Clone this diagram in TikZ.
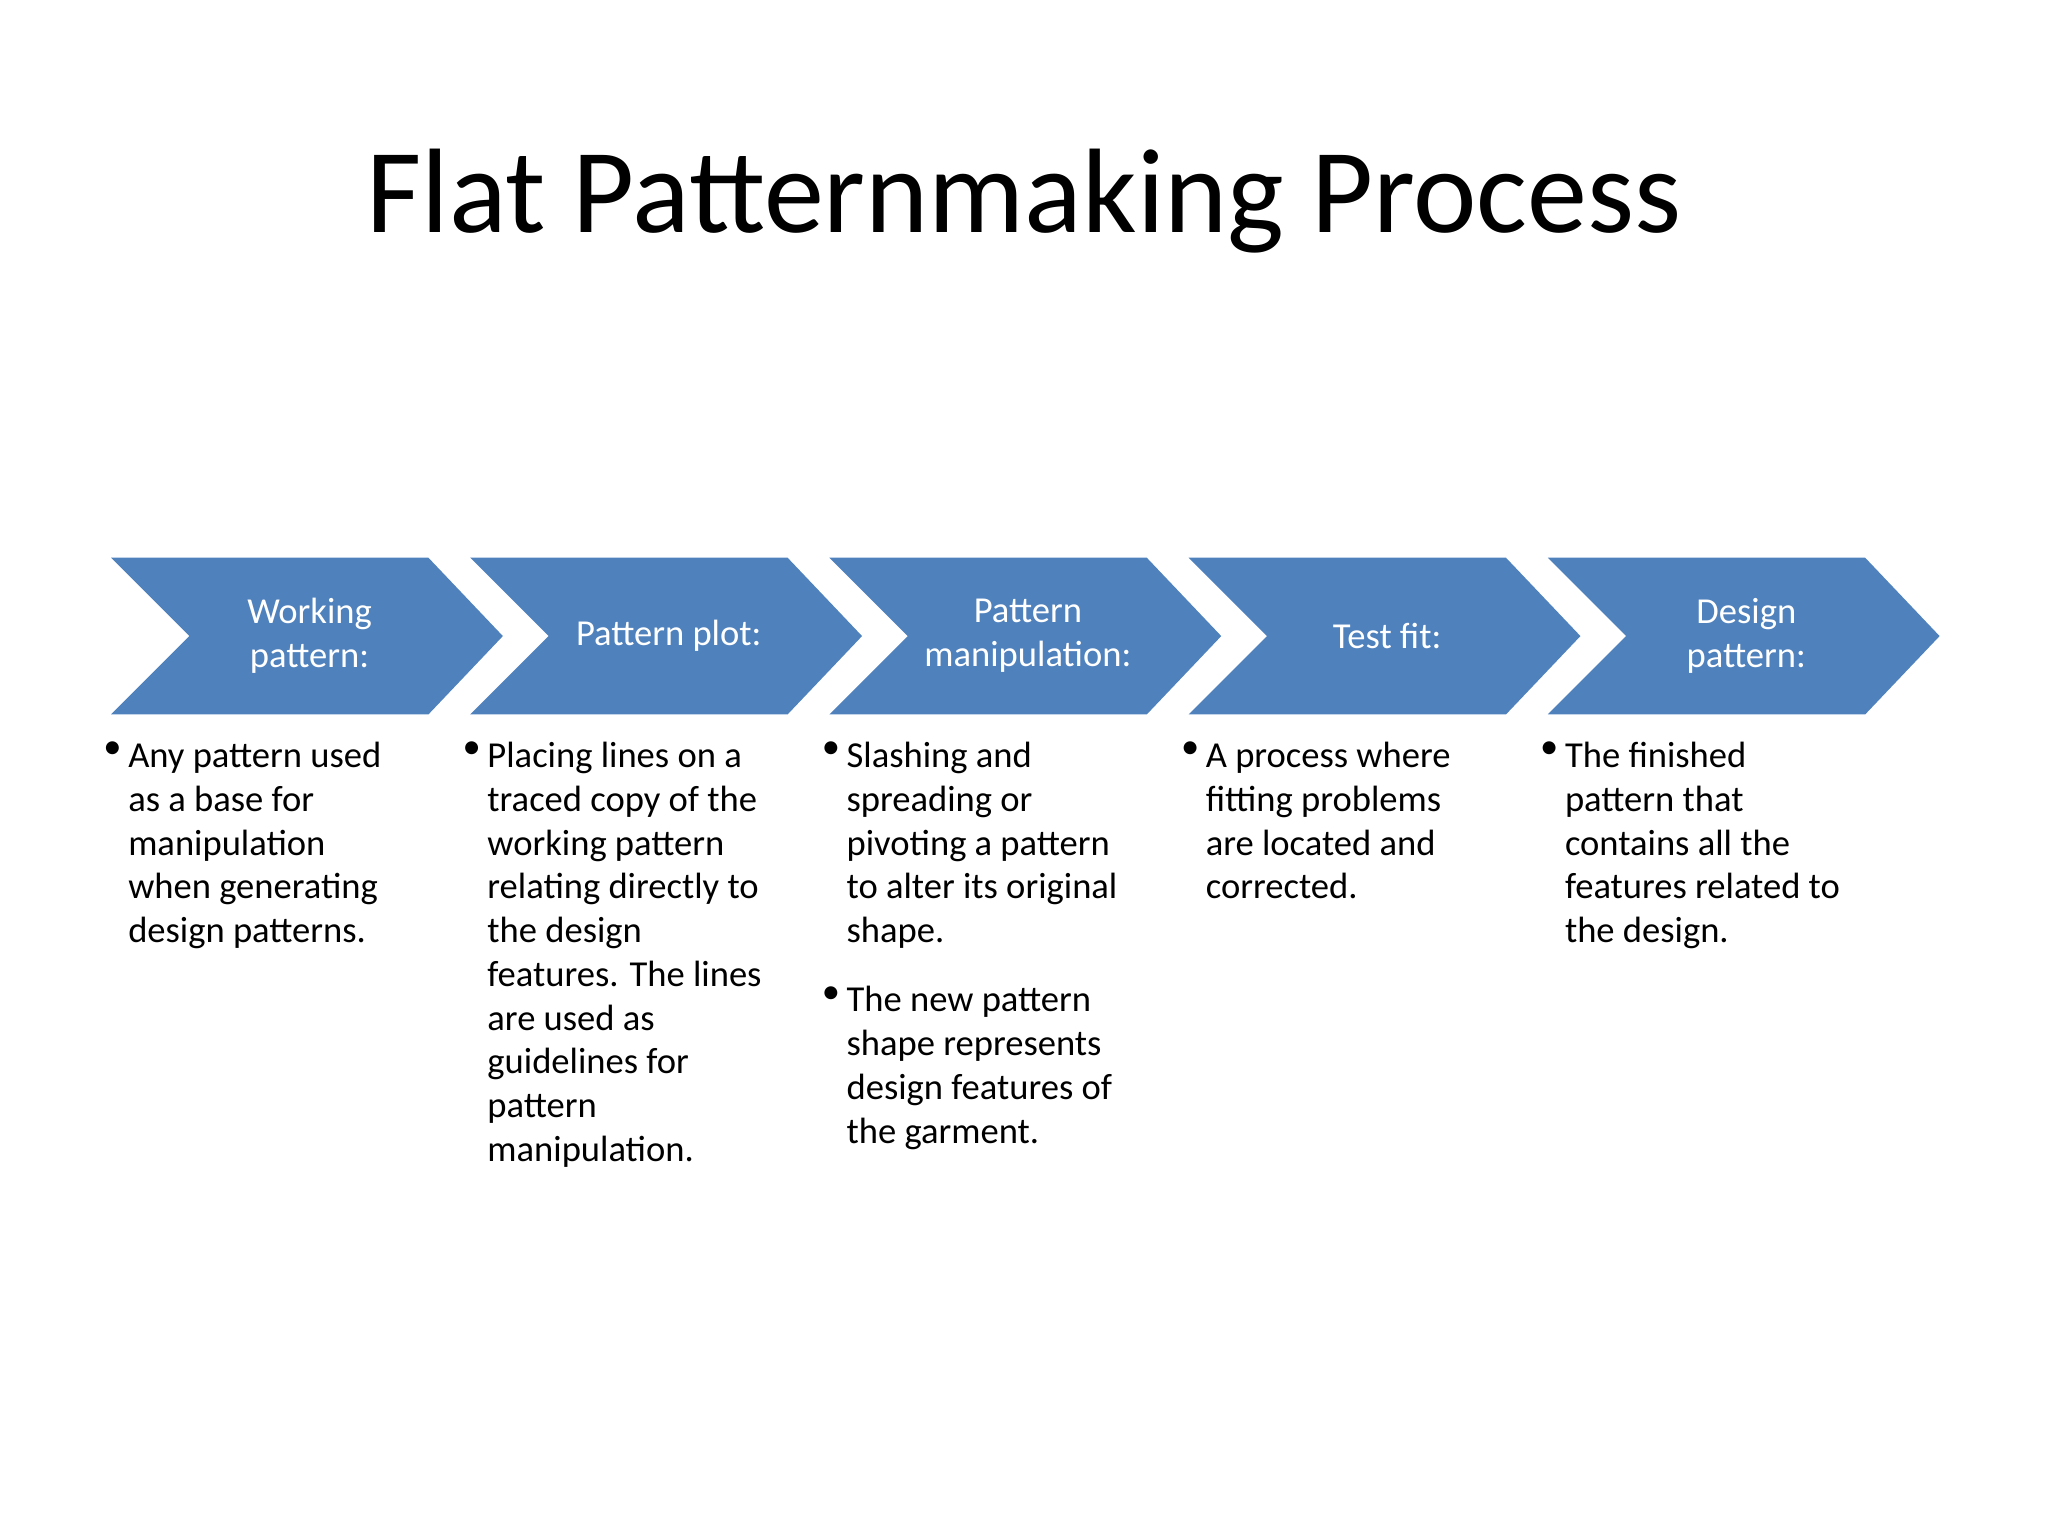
\documentclass[tikz,border=0pt]{standalone}
\usepackage{fontspec}
\setmainfont{Carlito}
\definecolor{chev}{RGB}{79,129,189}
\begin{document}
\begin{tikzpicture}[x=1pt,y=1pt,
  lab/.style={text=white,font=\fontsize{28}{33.5}\selectfont,align=center},
  body/.style={anchor=north west,inner sep=0pt,align=left,font=\fontsize{28}{33.5}\selectfont},
  bul/.style={anchor=north west,inner sep=0pt,font=\fontsize{28}{33.5}\selectfont}]
\useasboundingbox (0,0) rectangle (1568,1176);
\node[font=\fontsize{92}{100}\selectfont,anchor=base] (title) at (784,998) {Flat Patternmaking Process};
\foreach \i in {0,...,4}{
  \pgfmathsetmacro\xo{85+275*\i}
  \fill[chev] (\xo,749) -- ++(243,0) -- ++(57,-60) -- ++(-57,-60) -- ++(-243,0) -- ++(60,60) -- cycle;
}
\node[lab] (c1) at (237,689) {Working\\pattern:};
\node[lab] (c2) at (512,689) {Pattern plot:};
\node[lab] (c3) at (787,689) {Pattern\\manipulation:};
\node[lab] (c4) at (1062,689) {Test fit:};
\node[lab] (c5) at (1337,689) {Design\\pattern:};
\foreach \i/\t in {0/{Any pattern used\\as a base for\\manipulation\\when generating\\design patterns.},
  1/{Placing lines on a\\traced copy of the\\working pattern\\relating directly to\\the design\\features. The lines\\are used as\\guidelines for\\pattern\\manipulation.},
  2/{Slashing and\\spreading or\\pivoting a pattern\\to alter its original\\shape.},
  3/{A process where\\fitting problems\\are located and\\corrected.},
  4/{The finished\\pattern that\\contains all the\\features related to\\the design.}}{
  \node[bul] at ({79+275*\i},608) {\textbullet};
  \node[body] at ({98+275*\i},608) {\t};
}
\node[bul] (b6) at (629,421) {\textbullet};
\node[body] (t6) at (648,421) {The new pattern\\shape represents\\design features of\\the garment.};
\end{tikzpicture}
\end{document}
